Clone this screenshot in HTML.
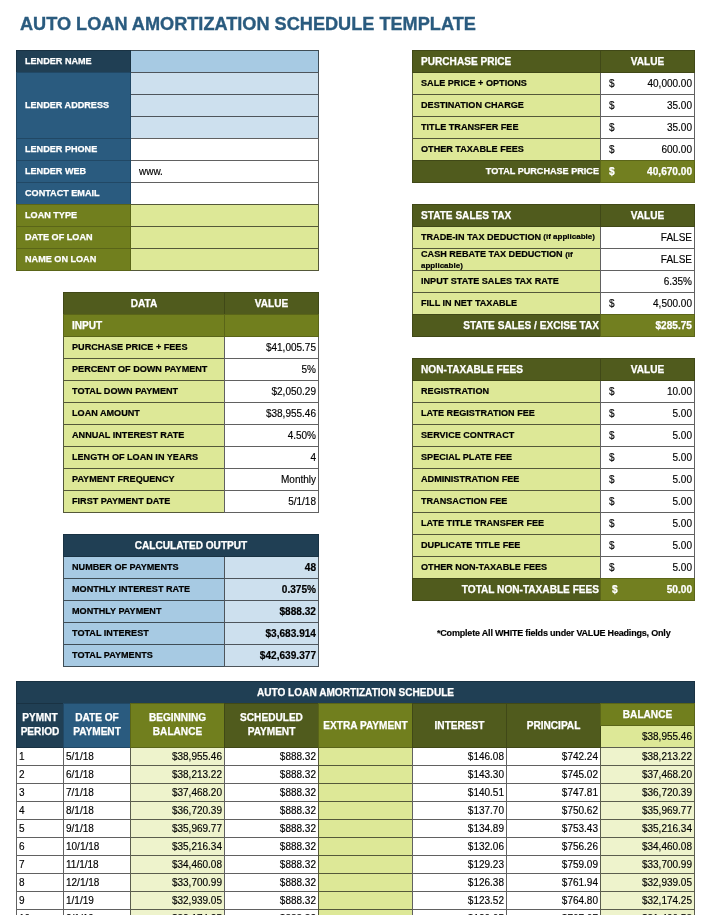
<!DOCTYPE html><html><head><meta charset="utf-8"><title>Auto Loan Amortization Schedule Template</title><style>
*{box-sizing:border-box;margin:0;padding:0}
html,body{width:714px;height:915px;overflow:hidden;background:#fff}
body{will-change:transform;font-family:"Liberation Sans",sans-serif;position:relative;color:#000}
.c{position:absolute;border:1px solid rgba(0,0,0,.62);font-size:9.1px;font-weight:bold;white-space:nowrap;overflow:hidden;display:flex;align-items:center;-webkit-text-stroke:0.2px #000}
.k{border-color:rgba(0,0,0,.2);z-index:1}
.l{padding-left:8px;padding-bottom:2px}
.r{justify-content:flex-end;padding-right:2px}
.m{justify-content:center;text-align:center}
.w{color:#fff;-webkit-text-stroke:0.25px #fff}
.n{font-weight:normal;font-size:10px;padding-bottom:0;-webkit-text-stroke:0.15px #000}
.h{font-size:10.1px;padding-bottom:0}
h1{position:absolute;left:20px;top:14px;font-size:18.15px;font-weight:bold;color:#2a5b7f;white-space:nowrap;line-height:20px;-webkit-text-stroke:0.35px #2a5b7f}
.d{position:absolute;left:8px}

.s{font-size:8px}
.wr{white-space:normal;line-height:10px;display:block;width:170px;position:relative;top:1px}
.a{padding-left:2px}
.note{position:absolute;left:437px;top:628px;font-size:9px;font-weight:bold;white-space:nowrap;letter-spacing:-0.19px;-webkit-text-stroke:0.15px #000}
</style></head><body>
<h1>AUTO LOAN AMORTIZATION SCHEDULE TEMPLATE</h1>
<div class="c l w k" style="left:16px;top:50px;width:115px;height:23px;background:#203f54;">LENDER NAME</div>
<div class="c l" style="left:130px;top:50px;width:189px;height:23px;background:#a7cae3;"></div>
<div class="c l w k" style="left:16px;top:72px;width:115px;height:67px;background:#2a5b7f;">LENDER ADDRESS</div>
<div class="c l" style="left:130px;top:72px;width:189px;height:23px;background:#cde0ee;"></div>
<div class="c l" style="left:130px;top:94px;width:189px;height:23px;background:#cde0ee;"></div>
<div class="c l" style="left:130px;top:116px;width:189px;height:23px;background:#cde0ee;"></div>
<div class="c l w k" style="left:16px;top:138px;width:115px;height:23px;background:#2a5b7f;">LENDER PHONE</div>
<div class="c l n" style="left:130px;top:138px;width:189px;height:23px;background:#fff;"></div>
<div class="c l w k" style="left:16px;top:160px;width:115px;height:23px;background:#2a5b7f;">LENDER WEB</div>
<div class="c l n" style="left:130px;top:160px;width:189px;height:23px;background:#fff;">www.</div>
<div class="c l w k" style="left:16px;top:182px;width:115px;height:23px;background:#2a5b7f;">CONTACT EMAIL</div>
<div class="c l n" style="left:130px;top:182px;width:189px;height:23px;background:#fff;"></div>
<div class="c l w k" style="left:16px;top:204px;width:115px;height:23px;background:#717f1e;">LOAN TYPE</div>
<div class="c l" style="left:130px;top:204px;width:189px;height:23px;background:#dde897;"></div>
<div class="c l w k" style="left:16px;top:226px;width:115px;height:23px;background:#717f1e;">DATE OF LOAN</div>
<div class="c l" style="left:130px;top:226px;width:189px;height:23px;background:#dde897;"></div>
<div class="c l w k" style="left:16px;top:248px;width:115px;height:23px;background:#717f1e;">NAME ON LOAN</div>
<div class="c l" style="left:130px;top:248px;width:189px;height:23px;background:#dde897;"></div>
<div class="c l w h k" style="left:412px;top:50px;width:189px;height:23px;background:#505b1d;">PURCHASE PRICE</div>
<div class="c m w h k" style="left:600px;top:50px;width:95px;height:23px;background:#505b1d;">VALUE</div>
<div class="c l" style="left:412px;top:72px;width:189px;height:23px;background:#dde897;">SALE PRICE + OPTIONS</div>
<div class="c r n" style="left:600px;top:72px;width:95px;height:23px;background:#fff;"><span class="d">$</span>40,000.00</div>
<div class="c l" style="left:412px;top:94px;width:189px;height:23px;background:#dde897;">DESTINATION CHARGE</div>
<div class="c r n" style="left:600px;top:94px;width:95px;height:23px;background:#fff;"><span class="d">$</span>35.00</div>
<div class="c l" style="left:412px;top:116px;width:189px;height:23px;background:#dde897;">TITLE TRANSFER FEE</div>
<div class="c r n" style="left:600px;top:116px;width:95px;height:23px;background:#fff;"><span class="d">$</span>35.00</div>
<div class="c l" style="left:412px;top:138px;width:189px;height:23px;background:#dde897;">OTHER TAXABLE FEES</div>
<div class="c r n" style="left:600px;top:138px;width:95px;height:23px;background:#fff;"><span class="d">$</span>600.00</div>
<div class="c r w k" style="left:412px;top:160px;width:189px;height:23px;background:#505b1d;padding-right:1px;padding-bottom:2px">TOTAL PURCHASE PRICE</div>
<div class="c r w h k" style="left:600px;top:160px;width:95px;height:23px;background:#727f20;"><span class="d" style="left:8px">$</span>40,670.00</div>
<div class="c l w h k" style="left:412px;top:204px;width:189px;height:23px;background:#505b1d;">STATE SALES TAX</div>
<div class="c m w h k" style="left:600px;top:204px;width:95px;height:23px;background:#505b1d;">VALUE</div>
<div class="c l" style="left:412px;top:226px;width:189px;height:23px;background:#dde897;">TRADE-IN TAX DEDUCTION <span class="s">&nbsp;(if applicable)</span></div>
<div class="c r n" style="left:600px;top:226px;width:95px;height:23px;background:#fff;">FALSE</div>
<div class="c l" style="left:412px;top:248px;width:189px;height:23px;background:#dde897;"><span class="wr">CASH REBATE TAX DEDUCTION <span class="s">(if applicable)</span></span></div>
<div class="c r n" style="left:600px;top:248px;width:95px;height:23px;background:#fff;">FALSE</div>
<div class="c l" style="left:412px;top:270px;width:189px;height:23px;background:#dde897;">INPUT STATE SALES TAX RATE</div>
<div class="c r n" style="left:600px;top:270px;width:95px;height:23px;background:#fff;">6.35%</div>
<div class="c l" style="left:412px;top:292px;width:189px;height:23px;background:#dde897;">FILL IN NET TAXABLE</div>
<div class="c r n" style="left:600px;top:292px;width:95px;height:23px;background:#fff;"><span class="d">$</span>4,500.00</div>
<div class="c r w h k" style="left:412px;top:314px;width:189px;height:23px;background:#505b1d;padding-right:1px">STATE SALES / EXCISE TAX</div>
<div class="c r w h k" style="left:600px;top:314px;width:95px;height:23px;background:#727f20;">$285.75</div>
<div class="c l w h k" style="left:412px;top:358px;width:189px;height:23px;background:#505b1d;">NON-TAXABLE FEES</div>
<div class="c m w h k" style="left:600px;top:358px;width:95px;height:23px;background:#505b1d;">VALUE</div>
<div class="c l" style="left:412px;top:380px;width:189px;height:23px;background:#dde897;">REGISTRATION</div>
<div class="c r n" style="left:600px;top:380px;width:95px;height:23px;background:#fff;"><span class="d">$</span>10.00</div>
<div class="c l" style="left:412px;top:402px;width:189px;height:23px;background:#dde897;">LATE REGISTRATION FEE</div>
<div class="c r n" style="left:600px;top:402px;width:95px;height:23px;background:#fff;"><span class="d">$</span>5.00</div>
<div class="c l" style="left:412px;top:424px;width:189px;height:23px;background:#dde897;">SERVICE CONTRACT</div>
<div class="c r n" style="left:600px;top:424px;width:95px;height:23px;background:#fff;"><span class="d">$</span>5.00</div>
<div class="c l" style="left:412px;top:446px;width:189px;height:23px;background:#dde897;">SPECIAL PLATE FEE</div>
<div class="c r n" style="left:600px;top:446px;width:95px;height:23px;background:#fff;"><span class="d">$</span>5.00</div>
<div class="c l" style="left:412px;top:468px;width:189px;height:23px;background:#dde897;">ADMINISTRATION FEE</div>
<div class="c r n" style="left:600px;top:468px;width:95px;height:23px;background:#fff;"><span class="d">$</span>5.00</div>
<div class="c l" style="left:412px;top:490px;width:189px;height:23px;background:#dde897;">TRANSACTION FEE</div>
<div class="c r n" style="left:600px;top:490px;width:95px;height:23px;background:#fff;"><span class="d">$</span>5.00</div>
<div class="c l" style="left:412px;top:512px;width:189px;height:23px;background:#dde897;">LATE TITLE TRANSFER FEE</div>
<div class="c r n" style="left:600px;top:512px;width:95px;height:23px;background:#fff;"><span class="d">$</span>5.00</div>
<div class="c l" style="left:412px;top:534px;width:189px;height:23px;background:#dde897;">DUPLICATE TITLE FEE</div>
<div class="c r n" style="left:600px;top:534px;width:95px;height:23px;background:#fff;"><span class="d">$</span>5.00</div>
<div class="c l" style="left:412px;top:556px;width:189px;height:23px;background:#dde897;">OTHER NON-TAXABLE FEES</div>
<div class="c r n" style="left:600px;top:556px;width:95px;height:23px;background:#fff;"><span class="d">$</span>5.00</div>
<div class="c r w h k" style="left:412px;top:578px;width:189px;height:23px;background:#505b1d;padding-right:1px">TOTAL NON-TAXABLE FEES</div>
<div class="c r w h k" style="left:600px;top:578px;width:95px;height:23px;background:#727f20;"><span class="d" style="left:11px">$</span>50.00</div>
<div class="c m w h k" style="left:63px;top:292px;width:162px;height:23px;background:#505b1d;">DATA</div>
<div class="c m w h k" style="left:224px;top:292px;width:95px;height:23px;background:#505b1d;">VALUE</div>
<div class="c l w h k" style="left:63px;top:314px;width:162px;height:23px;background:#717f1e;">INPUT</div>
<div class="c l k" style="left:224px;top:314px;width:95px;height:23px;background:#717f1e;"></div>
<div class="c l" style="left:63px;top:336px;width:162px;height:23px;background:#dde897;">PURCHASE PRICE + FEES</div>
<div class="c r n" style="left:224px;top:336px;width:95px;height:23px;background:#fff;">$41,005.75</div>
<div class="c l" style="left:63px;top:358px;width:162px;height:23px;background:#dde897;">PERCENT OF DOWN PAYMENT</div>
<div class="c r n" style="left:224px;top:358px;width:95px;height:23px;background:#fff;">5%</div>
<div class="c l" style="left:63px;top:380px;width:162px;height:23px;background:#dde897;">TOTAL DOWN PAYMENT</div>
<div class="c r n" style="left:224px;top:380px;width:95px;height:23px;background:#fff;">$2,050.29</div>
<div class="c l" style="left:63px;top:402px;width:162px;height:23px;background:#dde897;">LOAN AMOUNT</div>
<div class="c r n" style="left:224px;top:402px;width:95px;height:23px;background:#fff;">$38,955.46</div>
<div class="c l" style="left:63px;top:424px;width:162px;height:23px;background:#dde897;">ANNUAL INTEREST RATE</div>
<div class="c r n" style="left:224px;top:424px;width:95px;height:23px;background:#fff;">4.50%</div>
<div class="c l" style="left:63px;top:446px;width:162px;height:23px;background:#dde897;">LENGTH OF LOAN IN YEARS</div>
<div class="c r n" style="left:224px;top:446px;width:95px;height:23px;background:#fff;">4</div>
<div class="c l" style="left:63px;top:468px;width:162px;height:23px;background:#dde897;">PAYMENT FREQUENCY</div>
<div class="c r n" style="left:224px;top:468px;width:95px;height:23px;background:#fff;">Monthly</div>
<div class="c l" style="left:63px;top:490px;width:162px;height:23px;background:#dde897;">FIRST PAYMENT DATE</div>
<div class="c r n" style="left:224px;top:490px;width:95px;height:23px;background:#fff;">5/1/18</div>
<div class="c m w h k" style="left:63px;top:534px;width:256px;height:23px;background:#203f54;">CALCULATED OUTPUT</div>
<div class="c l" style="left:63px;top:556px;width:162px;height:23px;background:#a7cae3;">NUMBER OF PAYMENTS</div>
<div class="c r h" style="left:224px;top:556px;width:95px;height:23px;background:#cde0ee;">48</div>
<div class="c l" style="left:63px;top:578px;width:162px;height:23px;background:#a7cae3;">MONTHLY INTEREST RATE</div>
<div class="c r h" style="left:224px;top:578px;width:95px;height:23px;background:#cde0ee;">0.375%</div>
<div class="c l" style="left:63px;top:600px;width:162px;height:23px;background:#a7cae3;">MONTHLY PAYMENT</div>
<div class="c r h" style="left:224px;top:600px;width:95px;height:23px;background:#cde0ee;">$888.32</div>
<div class="c l" style="left:63px;top:622px;width:162px;height:23px;background:#a7cae3;">TOTAL INTEREST</div>
<div class="c r h" style="left:224px;top:622px;width:95px;height:23px;background:#cde0ee;">$3,683.914</div>
<div class="c l" style="left:63px;top:644px;width:162px;height:23px;background:#a7cae3;">TOTAL PAYMENTS</div>
<div class="c r h" style="left:224px;top:644px;width:95px;height:23px;background:#cde0ee;">$42,639.377</div>
<div class="note">*Complete All WHITE fields under VALUE Headings, Only</div>
<div class="c m w h k" style="left:16px;top:681px;width:679px;height:23px;background:#203f54;">AUTO LOAN AMORTIZATION SCHEDULE</div>
<div class="c m w h k" style="left:16px;top:703px;width:48px;height:45px;background:#203f54;line-height:13.4px;padding-bottom:2px">PYMNT<br>PERIOD</div>
<div class="c m w h k" style="left:63px;top:703px;width:68px;height:45px;background:#2a5b7f;line-height:13.4px;padding-bottom:2px">DATE OF<br>PAYMENT</div>
<div class="c m w h k" style="left:130px;top:703px;width:95px;height:45px;background:#717f1e;line-height:13.4px;padding-bottom:2px">BEGINNING<br>BALANCE</div>
<div class="c m w h k" style="left:224px;top:703px;width:95px;height:45px;background:#505b1d;line-height:13.4px;padding-bottom:2px">SCHEDULED<br>PAYMENT</div>
<div class="c m w h k" style="left:318px;top:703px;width:95px;height:45px;background:#717f1e;line-height:13.4px">EXTRA PAYMENT</div>
<div class="c m w h k" style="left:412px;top:703px;width:95px;height:45px;background:#505b1d;line-height:13.4px">INTEREST</div>
<div class="c m w h k" style="left:506px;top:703px;width:95px;height:45px;background:#505b1d;line-height:13.4px">PRINCIPAL</div>
<div class="c m w h k" style="left:600px;top:703px;width:95px;height:23px;background:#717f1e;">BALANCE</div>
<div class="c r n" style="left:600px;top:725px;width:95px;height:23px;background:#dde897;">$38,955.46</div>
<div class="c a n" style="left:16px;top:747px;width:48px;height:19px;background:#fff;">1</div>
<div class="c a n" style="left:63px;top:747px;width:68px;height:19px;background:#fff;">5/1/18</div>
<div class="c r n" style="left:130px;top:747px;width:95px;height:19px;background:#eef3cc;">$38,955.46</div>
<div class="c r n" style="left:224px;top:747px;width:95px;height:19px;background:#fff;">$888.32</div>
<div class="c r n" style="left:318px;top:747px;width:95px;height:19px;background:#dde897;"></div>
<div class="c r n" style="left:412px;top:747px;width:95px;height:19px;background:#fff;">$146.08</div>
<div class="c r n" style="left:506px;top:747px;width:95px;height:19px;background:#fff;">$742.24</div>
<div class="c r n" style="left:600px;top:747px;width:95px;height:19px;background:#eef3cc;">$38,213.22</div>
<div class="c a n" style="left:16px;top:765px;width:48px;height:19px;background:#fff;">2</div>
<div class="c a n" style="left:63px;top:765px;width:68px;height:19px;background:#fff;">6/1/18</div>
<div class="c r n" style="left:130px;top:765px;width:95px;height:19px;background:#eef3cc;">$38,213.22</div>
<div class="c r n" style="left:224px;top:765px;width:95px;height:19px;background:#fff;">$888.32</div>
<div class="c r n" style="left:318px;top:765px;width:95px;height:19px;background:#dde897;"></div>
<div class="c r n" style="left:412px;top:765px;width:95px;height:19px;background:#fff;">$143.30</div>
<div class="c r n" style="left:506px;top:765px;width:95px;height:19px;background:#fff;">$745.02</div>
<div class="c r n" style="left:600px;top:765px;width:95px;height:19px;background:#eef3cc;">$37,468.20</div>
<div class="c a n" style="left:16px;top:783px;width:48px;height:19px;background:#fff;">3</div>
<div class="c a n" style="left:63px;top:783px;width:68px;height:19px;background:#fff;">7/1/18</div>
<div class="c r n" style="left:130px;top:783px;width:95px;height:19px;background:#eef3cc;">$37,468.20</div>
<div class="c r n" style="left:224px;top:783px;width:95px;height:19px;background:#fff;">$888.32</div>
<div class="c r n" style="left:318px;top:783px;width:95px;height:19px;background:#dde897;"></div>
<div class="c r n" style="left:412px;top:783px;width:95px;height:19px;background:#fff;">$140.51</div>
<div class="c r n" style="left:506px;top:783px;width:95px;height:19px;background:#fff;">$747.81</div>
<div class="c r n" style="left:600px;top:783px;width:95px;height:19px;background:#eef3cc;">$36,720.39</div>
<div class="c a n" style="left:16px;top:801px;width:48px;height:19px;background:#fff;">4</div>
<div class="c a n" style="left:63px;top:801px;width:68px;height:19px;background:#fff;">8/1/18</div>
<div class="c r n" style="left:130px;top:801px;width:95px;height:19px;background:#eef3cc;">$36,720.39</div>
<div class="c r n" style="left:224px;top:801px;width:95px;height:19px;background:#fff;">$888.32</div>
<div class="c r n" style="left:318px;top:801px;width:95px;height:19px;background:#dde897;"></div>
<div class="c r n" style="left:412px;top:801px;width:95px;height:19px;background:#fff;">$137.70</div>
<div class="c r n" style="left:506px;top:801px;width:95px;height:19px;background:#fff;">$750.62</div>
<div class="c r n" style="left:600px;top:801px;width:95px;height:19px;background:#eef3cc;">$35,969.77</div>
<div class="c a n" style="left:16px;top:819px;width:48px;height:19px;background:#fff;">5</div>
<div class="c a n" style="left:63px;top:819px;width:68px;height:19px;background:#fff;">9/1/18</div>
<div class="c r n" style="left:130px;top:819px;width:95px;height:19px;background:#eef3cc;">$35,969.77</div>
<div class="c r n" style="left:224px;top:819px;width:95px;height:19px;background:#fff;">$888.32</div>
<div class="c r n" style="left:318px;top:819px;width:95px;height:19px;background:#dde897;"></div>
<div class="c r n" style="left:412px;top:819px;width:95px;height:19px;background:#fff;">$134.89</div>
<div class="c r n" style="left:506px;top:819px;width:95px;height:19px;background:#fff;">$753.43</div>
<div class="c r n" style="left:600px;top:819px;width:95px;height:19px;background:#eef3cc;">$35,216.34</div>
<div class="c a n" style="left:16px;top:837px;width:48px;height:19px;background:#fff;">6</div>
<div class="c a n" style="left:63px;top:837px;width:68px;height:19px;background:#fff;">10/1/18</div>
<div class="c r n" style="left:130px;top:837px;width:95px;height:19px;background:#eef3cc;">$35,216.34</div>
<div class="c r n" style="left:224px;top:837px;width:95px;height:19px;background:#fff;">$888.32</div>
<div class="c r n" style="left:318px;top:837px;width:95px;height:19px;background:#dde897;"></div>
<div class="c r n" style="left:412px;top:837px;width:95px;height:19px;background:#fff;">$132.06</div>
<div class="c r n" style="left:506px;top:837px;width:95px;height:19px;background:#fff;">$756.26</div>
<div class="c r n" style="left:600px;top:837px;width:95px;height:19px;background:#eef3cc;">$34,460.08</div>
<div class="c a n" style="left:16px;top:855px;width:48px;height:19px;background:#fff;">7</div>
<div class="c a n" style="left:63px;top:855px;width:68px;height:19px;background:#fff;">11/1/18</div>
<div class="c r n" style="left:130px;top:855px;width:95px;height:19px;background:#eef3cc;">$34,460.08</div>
<div class="c r n" style="left:224px;top:855px;width:95px;height:19px;background:#fff;">$888.32</div>
<div class="c r n" style="left:318px;top:855px;width:95px;height:19px;background:#dde897;"></div>
<div class="c r n" style="left:412px;top:855px;width:95px;height:19px;background:#fff;">$129.23</div>
<div class="c r n" style="left:506px;top:855px;width:95px;height:19px;background:#fff;">$759.09</div>
<div class="c r n" style="left:600px;top:855px;width:95px;height:19px;background:#eef3cc;">$33,700.99</div>
<div class="c a n" style="left:16px;top:873px;width:48px;height:19px;background:#fff;">8</div>
<div class="c a n" style="left:63px;top:873px;width:68px;height:19px;background:#fff;">12/1/18</div>
<div class="c r n" style="left:130px;top:873px;width:95px;height:19px;background:#eef3cc;">$33,700.99</div>
<div class="c r n" style="left:224px;top:873px;width:95px;height:19px;background:#fff;">$888.32</div>
<div class="c r n" style="left:318px;top:873px;width:95px;height:19px;background:#dde897;"></div>
<div class="c r n" style="left:412px;top:873px;width:95px;height:19px;background:#fff;">$126.38</div>
<div class="c r n" style="left:506px;top:873px;width:95px;height:19px;background:#fff;">$761.94</div>
<div class="c r n" style="left:600px;top:873px;width:95px;height:19px;background:#eef3cc;">$32,939.05</div>
<div class="c a n" style="left:16px;top:891px;width:48px;height:19px;background:#fff;">9</div>
<div class="c a n" style="left:63px;top:891px;width:68px;height:19px;background:#fff;">1/1/19</div>
<div class="c r n" style="left:130px;top:891px;width:95px;height:19px;background:#eef3cc;">$32,939.05</div>
<div class="c r n" style="left:224px;top:891px;width:95px;height:19px;background:#fff;">$888.32</div>
<div class="c r n" style="left:318px;top:891px;width:95px;height:19px;background:#dde897;"></div>
<div class="c r n" style="left:412px;top:891px;width:95px;height:19px;background:#fff;">$123.52</div>
<div class="c r n" style="left:506px;top:891px;width:95px;height:19px;background:#fff;">$764.80</div>
<div class="c r n" style="left:600px;top:891px;width:95px;height:19px;background:#eef3cc;">$32,174.25</div>
<div class="c a n" style="left:16px;top:909px;width:48px;height:19px;background:#fff;">10</div>
<div class="c a n" style="left:63px;top:909px;width:68px;height:19px;background:#fff;">2/1/19</div>
<div class="c r n" style="left:130px;top:909px;width:95px;height:19px;background:#eef3cc;">$32,174.25</div>
<div class="c r n" style="left:224px;top:909px;width:95px;height:19px;background:#fff;">$888.32</div>
<div class="c r n" style="left:318px;top:909px;width:95px;height:19px;background:#dde897;"></div>
<div class="c r n" style="left:412px;top:909px;width:95px;height:19px;background:#fff;">$120.65</div>
<div class="c r n" style="left:506px;top:909px;width:95px;height:19px;background:#fff;">$767.67</div>
<div class="c r n" style="left:600px;top:909px;width:95px;height:19px;background:#eef3cc;">$31,406.58</div>
</body></html>
